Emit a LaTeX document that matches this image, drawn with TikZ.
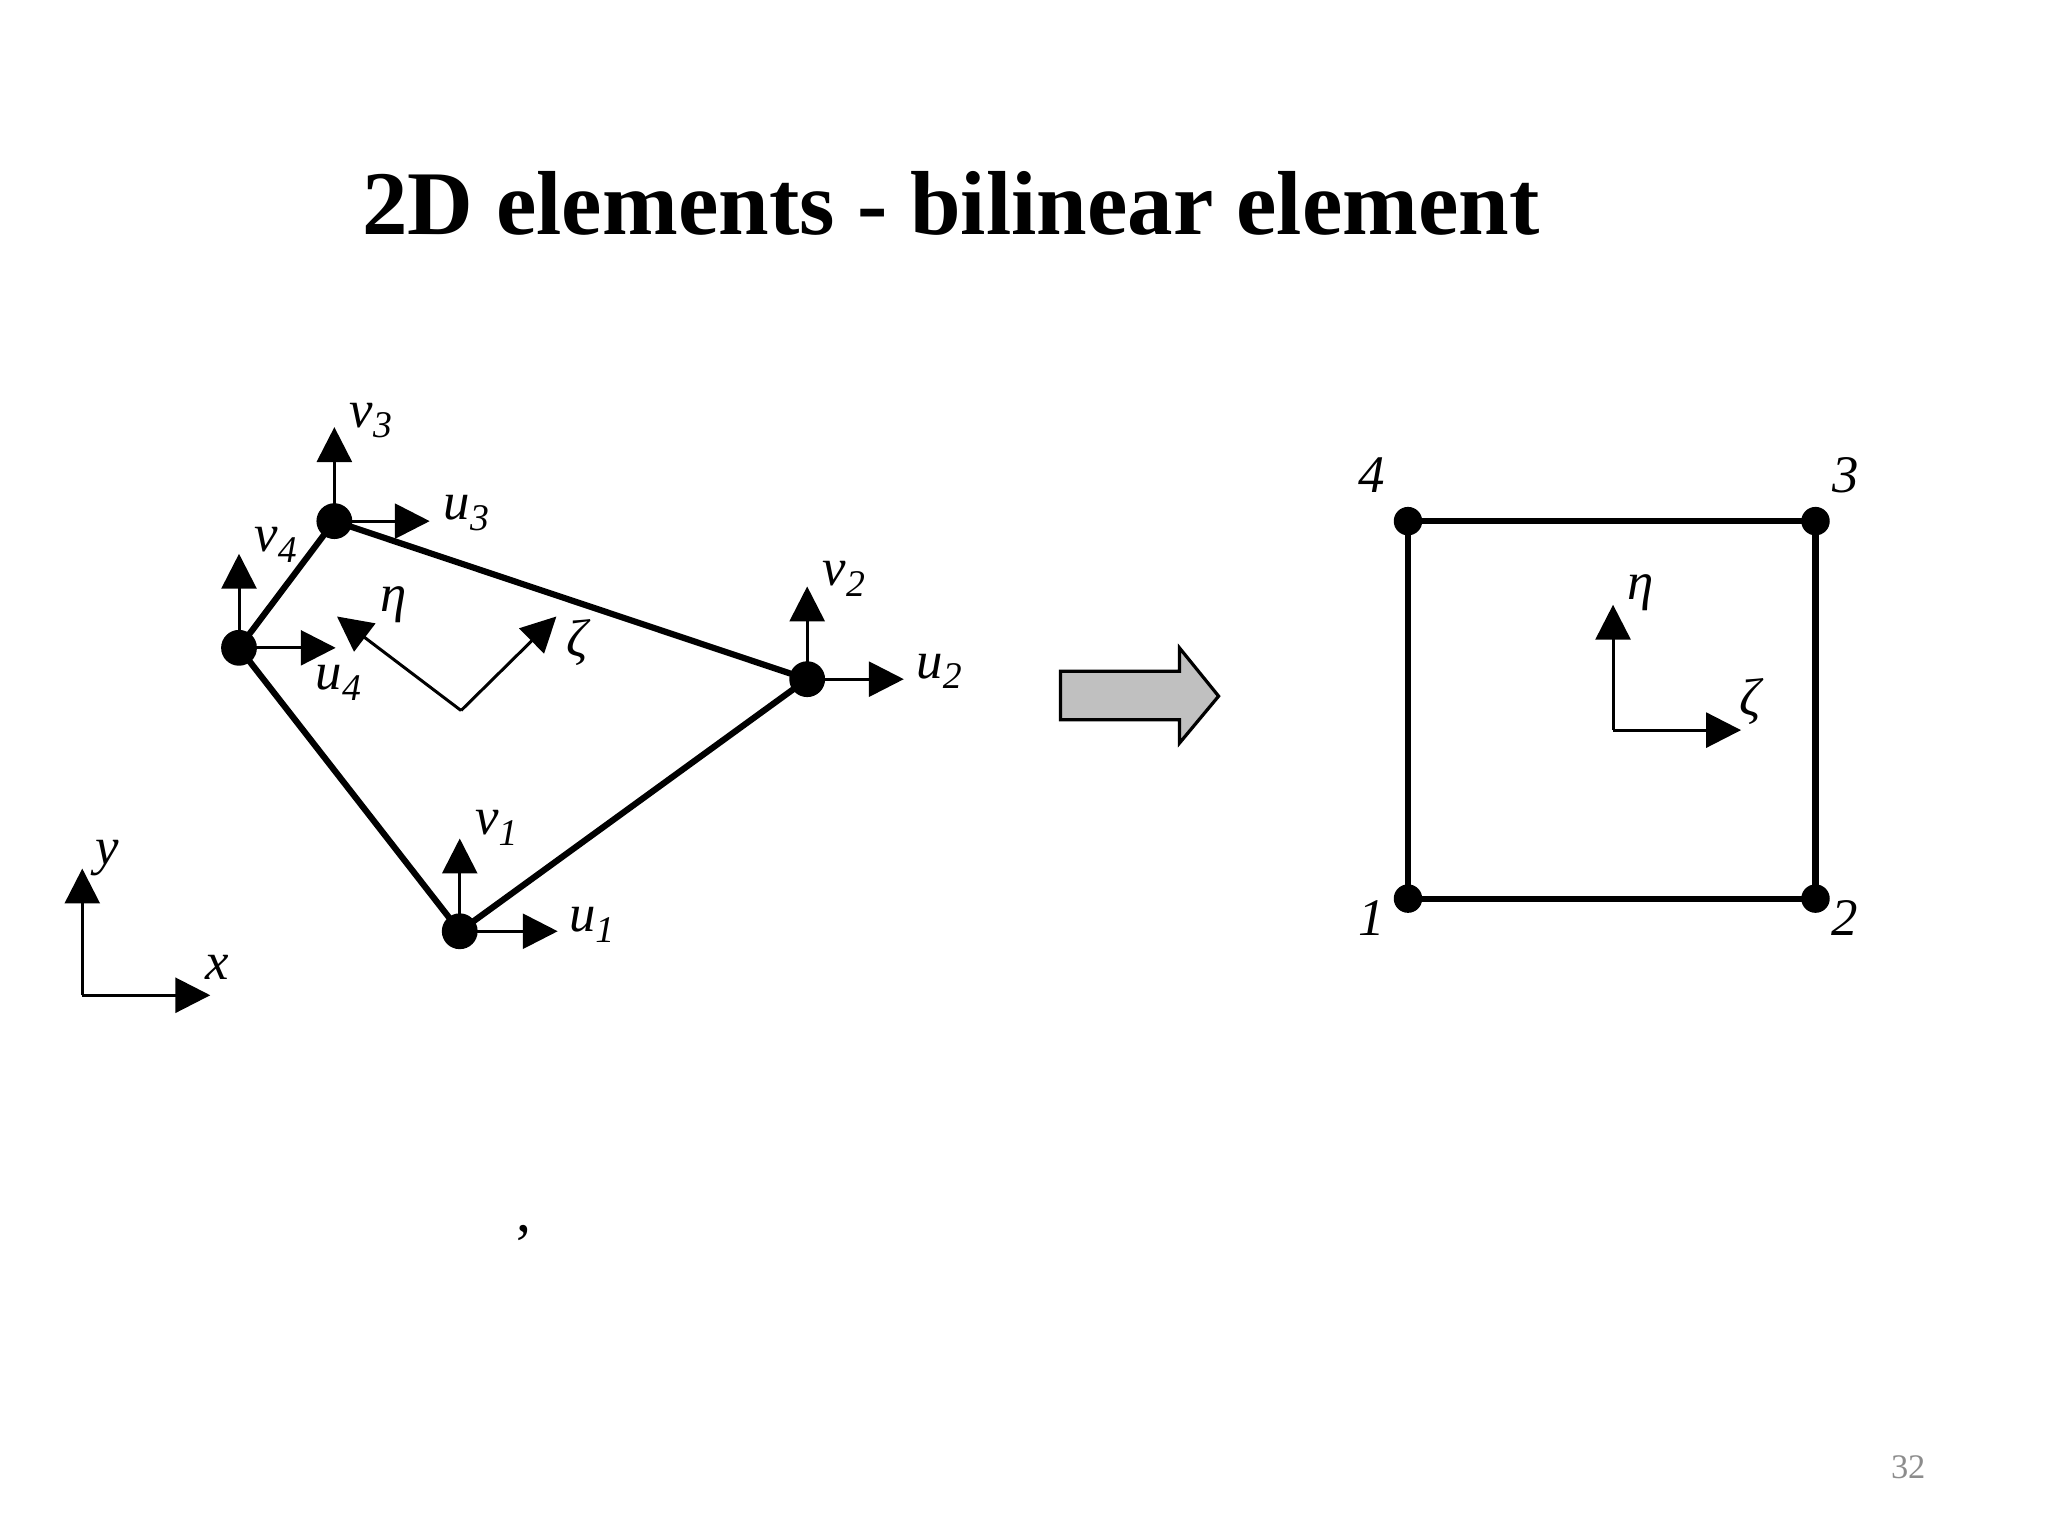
\documentclass[tikz,border=0pt]{standalone}
\usepackage{fontspec}
\setmainfont{Liberation Serif}
\usetikzlibrary{arrows.meta}
\definecolor{pagegray}{HTML}{8C8C8C}
\definecolor{blockgray}{HTML}{C0C0C0}
\tikzset{
  dot/.style={circle,fill=black,inner sep=0pt,minimum size=7.8pt},
  smalldot/.style={circle,fill=black,inner sep=0pt,minimum size=6.2pt},
  edge/.style={line width=1.35pt,black},
  vec/.style={line width=0.65pt,black,-{Triangle[length=7.6pt,width=7.6pt]}},
  lab/.style={font=\fontsize{11.5}{13}\selectfont\itshape,inner sep=0pt},
  title/.style={font=\fontsize{19.8}{24}\selectfont\bfseries,inner sep=0pt}
}
\newcommand{\sbs}[2]{#1\raisebox{-0.2em}{\fontsize{8.2}{10}\selectfont #2}}
\begin{document}
\begin{tikzpicture}[x=0.01cm,y=-0.01cm]
\useasboundingbox (0,0) rectangle (1568,1176);
\node[title] (ttl) at (728,156) {2D elements - bilinear element};
% left element
\node[dot] (n1) at (352,713) {};
\node[dot] (n2) at (618,520) {};
\node[dot] (n3) at (256,399) {};
\node[dot] (n4) at (183,496) {};
\draw[edge] (n1.center) -- (n2.center) -- (n3.center) -- (n4.center) -- (n1.center);
\coordinate (u1e) at (427,713); \coordinate (v1e) at (352,642);
\coordinate (u2e) at (692,520); \coordinate (v2e) at (618,449);
\coordinate (u3e) at (329,399); \coordinate (v3e) at (256,327);
\coordinate (u4e) at (257,496); \coordinate (v4e) at (183,424);
\draw[vec] (n1.center) -- (u1e); \draw[vec] (n1.center) -- (v1e);
\draw[vec] (n2.center) -- (u2e); \draw[vec] (n2.center) -- (v2e);
\draw[vec] (n3.center) -- (u3e); \draw[vec] (n3.center) -- (v3e);
\draw[vec] (n4.center) -- (u4e); \draw[vec] (n4.center) -- (v4e);
\node[lab] (lu1) at (453,708) {\sbs{u}{1}};
\node[lab] (lv1) at (380,634) {\sbs{v}{1}};
\node[lab] (lu2) at (719,514) {\sbs{u}{2}};
\node[lab] (lv2) at (646,443) {\sbs{v}{2}};
\node[lab] (lu3) at (357,393) {\sbs{u}{3}};
\node[lab] (lv3) at (284,322) {\sbs{v}{3}};
\node[lab] (lu4) at (259,523) {\sbs{u}{4}};
\node[lab] (lv4) at (211,417) {\sbs{v}{4}};
% local axes in element
\coordinate (loc) at (353,544);
\coordinate (loce) at (258,472); \coordinate (locz) at (426,472);
\draw[vec] (loc) -- (loce); \draw[vec] (loc) -- (locz);
\node[lab] (leta) at (301,463) {η};
\node[lab] (lzeta) at (442,492) {ζ};
% global axes
\coordinate (glo) at (63,762);
\coordinate (glx) at (161,762); \coordinate (gly) at (63,665);
\draw[vec] (glo) -- (glx); \draw[vec] (glo) -- (gly);
\node[lab] (lx) at (166,741) {x};
\node[lab] (ly) at (82,657) {y};
% block arrow
\draw[line width=0.7pt,fill=blockgray,line join=miter] (812,514) -- (903,514) -- (903,496) -- (933,533) -- (903,569) -- (903,551) -- (812,551) -- cycle;
% right element
\node[smalldot] (m1) at (1078,688) {};
\node[smalldot] (m2) at (1390,688) {};
\node[smalldot] (m3) at (1390,399) {};
\node[smalldot] (m4) at (1078,399) {};
\draw[edge] (m1.center) -- (m2.center) -- (m3.center) -- (m4.center) -- (m1.center);
\node[lab] (l1) at (1050,703) {1};
\node[lab] (l2) at (1412,703) {2};
\node[lab] (l3) at (1413,364) {3};
\node[lab] (l4) at (1050,364) {4};
\coordinate (rgo) at (1235,559);
\coordinate (rgy) at (1235,463); \coordinate (rgx) at (1333,559);
\draw[vec] (rgo) -- (rgy); \draw[vec] (rgo) -- (rgx);
\node[lab] (reta) at (1256,454) {η};
\node[lab] (rzeta) at (1340,537) {ζ};
% other text
\node[lab,font=\fontsize{13}{15}\selectfont] (cm) at (401,944) {,};
\node[inner sep=0pt,text=pagegray,font=\fontsize{7.5}{9}\selectfont] (pg) at (1461,1123) {32};
\end{tikzpicture}
\end{document}
